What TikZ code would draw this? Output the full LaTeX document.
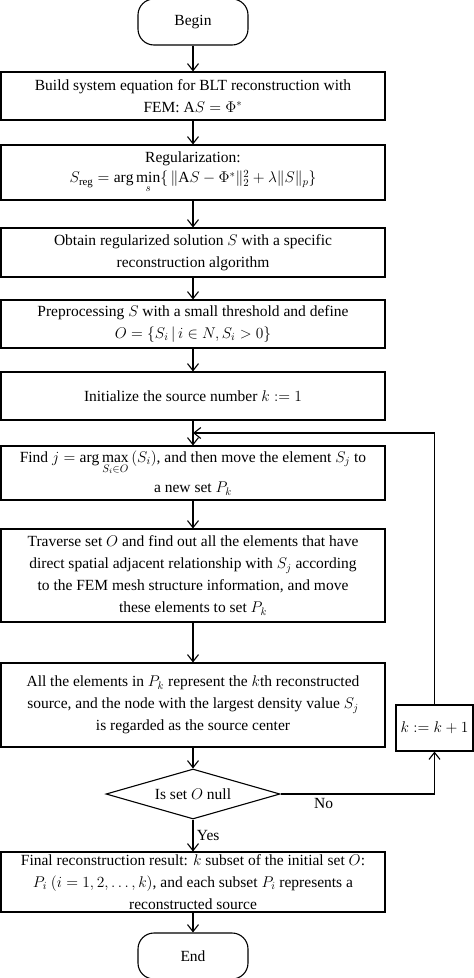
\RequirePackage{fix-cm}
\documentclass[tikz,border=0pt]{standalone}
\usepackage{amsmath}
\usepackage{fontspec}
\setmainfont{Liberation Serif}
\usetikzlibrary{arrows.meta,shapes.geometric}

\begin{document}
\begin{tikzpicture}[x=1pt,y=-1pt,line width=1.1pt,
    box/.style={draw,rectangle,minimum width=384pt,text width=380pt,align=flush center,inner sep=2pt},
    term/.style={draw,rectangle,rounded corners=16pt,minimum width=110pt,minimum height=46pt},
    decision/.style={draw,diamond,aspect=3.5,minimum width=174pt,minimum height=50pt,inner sep=1pt},
    flow/.style={-{Straight Barb[length=7pt,width=11pt]}},
    font=\fontsize{15.5}{22}\selectfont]
  \useasboundingbox (0,0) rectangle (474,978);

  \node[term] (begin) at (193,22) {Begin};
  \node[box,minimum height=48pt] (sys) at (193,96) {Build system equation for BLT reconstruction with\\ FEM: $\mathrm{A}S = \Phi^{*}$};
  \node[box,minimum height=55pt] (reg) at (193,172.5) {Regularization:\\[-2pt] $S_{\mathrm{reg}} = \arg\min\limits_{s}\{\,\|\mathrm{A}S - \Phi^{*}\|_2^2 + \lambda\|S\|_p\}$};
  \node[box,minimum height=49pt] (sol) at (193,252.5) {Obtain regularized solution $S$ with a specific\\ reconstruction algorithm};
  \node[box,minimum height=48pt] (pre) at (193,324) {Preprocessing $S$ with a small threshold and define\\ $O = \{S_i \,|\, i \in N, S_i > 0\}$};
  \node[box,minimum height=48pt] (init) at (193,396) {Initialize the source number $k := 1$\\[8pt]};
  \node[box,minimum height=54pt] (find) at (193,473) {Find $j = \arg\max\limits_{S_i \in O}\,(S_i)$, and then move the element $S_j$ to\\[6pt] a new set $P_k$};
  \node[box,minimum height=93pt] (trav) at (193,575.5) {Traverse set $O$ and find out all the elements that have\\ direct spatial adjacent relationship with $S_j$ according\\ to the FEM mesh structure information, and move\\ these elements to set $P_k$};
  \node[box,minimum height=84pt] (elem) at (193,705) {All the elements in $P_k$ represent the $k$th reconstructed\\ source, and the node with the largest density value $S_j$\\ is regarded as the source center};
  \node[decision] (null) at (193,794) {Is set $O$ null};
  \node[draw,minimum width=77pt,minimum height=46pt] (inc) at (434.5,728) {$k := k + 1$};
  \node[box,minimum height=60pt] (final) at (193,882) {Final reconstruction result: $k$ subset of the initial set $O$:\\ $P_i$ $(i = 1, 2, \ldots, k)$, and each subset $P_i$ represents a\\ reconstructed source};
  \node[term] (end) at (193,956) {End};
  \coordinate (loop) at (193,433);

  \draw[flow] (begin) -- (sys);
  \draw[flow] (sys) -- (reg);
  \draw[flow] (reg) -- (sol);
  \draw[flow] (sol) -- (pre);
  \draw[flow] (pre) -- (init);
  \draw[flow] (init) -- (find);
  \draw[flow] (find) -- (trav);
  \draw[flow] (trav) -- (elem);
  \draw[flow] (elem) -- (null);
  \draw[flow] (null) -- node[right] {Yes} (final);
  \draw[flow] (final) -- (end);
  \draw[flow] (null.east) -| node[pos=0.14,below] {No} (inc);
  \draw[flow] (inc) |- (loop);
\end{tikzpicture}
\end{document}
